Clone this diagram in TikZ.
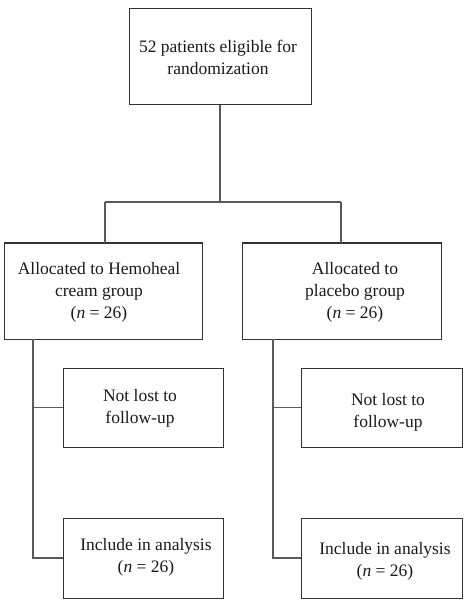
\documentclass[tikz,border=0pt]{standalone}
\usepackage{fontspec}
\setmainfont{Liberation Serif}
\begin{document}
\begin{tikzpicture}[x=1pt,y=-1pt,
  box/.style={draw=black!80,line width=1pt,rectangle,inner sep=0pt},
  lbl/.style={align=center,inner sep=0pt,font=\fontsize{17.5}{22}\selectfont,text=black!90},
  conn/.style={draw=black!65,line width=1.1pt}]
\useasboundingbox (0,0) rectangle (474,601);
\node[box,minimum width=182pt,minimum height=96pt] (top) at (220,57) {};
\node[box,minimum width=198pt,minimum height=96pt] (L1) at (103,291) {};
\node[box,minimum width=199pt,minimum height=96pt] (R1) at (341.5,291) {};
\node[box,minimum width=160pt,minimum height=79pt] (L2) at (143,407.5) {};
\node[box,minimum width=161pt,minimum height=79pt] (R2) at (381.5,407.5) {};
\node[box,minimum width=160pt,minimum height=80pt] (L3) at (143,558) {};
\node[box,minimum width=161pt,minimum height=80pt] (R3) at (381.5,558) {};
\node[lbl] (tTop) at (218,57) {52 patients eligible for\\randomization};
\node[lbl] (tL1) at (99,292) {Allocated to Hemoheal\\cream group\\(\textit{n} = 26)};
\node[lbl] (tR1) at (355,292) {Allocated to\\placebo group\\(\textit{n} = 26)};
\node[lbl] (tL2) at (140,408) {Not lost to\\follow-up};
\node[lbl] (tR2) at (388,412) {Not lost to\\follow-up};
\node[lbl] (tL3) at (146,557) {Include in analysis\\(\textit{n} = 26)};
\node[lbl] (tR3) at (385,561) {Include in analysis\\(\textit{n} = 26)};
\coordinate (jl) at (105,202);
\coordinate (jr) at (341,202);
\draw[conn] (top.south) -- (top.south |- jl);
\draw[conn] (jl) -- (jr);
\draw[conn] (jl) -- (jl |- L1.north);
\draw[conn] (jr) -- (jr |- R1.north);
\coordinate (sl) at (33,339);
\coordinate (sr) at (273,339);
\draw[conn] (sl) -- (sl |- L3.west) -- (L3.west);
\draw[conn] (sl |- L2.west) -- (L2.west);
\draw[conn] (sr) -- (sr |- R3.west) -- (R3.west);
\draw[conn] (sr |- R2.west) -- (R2.west);
\end{tikzpicture}
\end{document}
